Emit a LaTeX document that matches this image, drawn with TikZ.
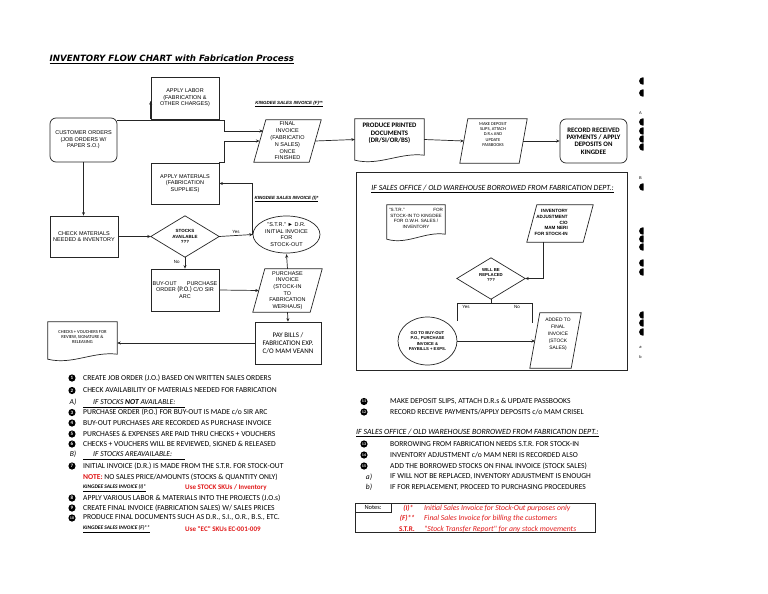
\documentclass[tikz,border=0pt]{standalone}
\usepackage{fontspec}
\setmainfont{Liberation Sans}
\newfontfamily\carl{Carlito}
\newfontfamily\dvs{DejaVu Sans}
\usetikzlibrary{arrows.meta,calc}
\definecolor{redtxt}{RGB}{225,25,25}
\tikzset{
 ln/.style={line width=0.7pt, draw=black!85},
 arr/.style={ln, -{Stealth[length=3.5pt,width=3pt]}},
 ghost/.style={rectangle, inner sep=0pt, align=center, font=\fontsize{5.5}{6.6}\selectfont},
 box/.style={ghost, ln, draw},
 txt/.style={inner sep=0pt, align=center},
 item/.style={inner sep=0pt, anchor=west, font=\carl\fontsize{7.6}{8}\selectfont},
 itemi/.style={item, font=\carl\itshape\fontsize{7.6}{8}\selectfont},
 nb/.style={circle, fill=black, inner sep=0pt, minimum size=7.2pt, text=white, font=\carl\bfseries\fontsize{5}{5}\selectfont},
 nbb/.style={nb, font=\carl\bfseries\fontsize{4}{4}\selectfont},
 lbl/.style={inner sep=0pt, font=\fontsize{4.5}{5}\selectfont},
 kd/.style={inner sep=0pt, font=\bfseries\itshape\fontsize{4.5}{5}\selectfont},
 redn/.style={item, text=redtxt, font=\carl\itshape\fontsize{7.7}{8}\selectfont},
 redl/.style={item, anchor=east, text=redtxt, font=\carl\bfseries\itshape\fontsize{7.2}{8}\selectfont},
}
\newcommand\paral[2]{\draw[ln] (#1.south west) -- ([xshift=#2]#1.north west) -- (#1.north east) -- ([xshift=-#2]#1.south east) -- cycle;}
\newcommand\docsh[1]{\draw[ln] (#1.north west) -- (#1.north east) -- ([yshift=5pt]#1.south east) .. controls ($(#1.south east)!0.35!(#1.south west)+(0,-8)$) and ($(#1.south east)!0.65!(#1.south west)+(0,6)$) .. (#1.south west) -- cycle;}
\newcommand\diam[1]{\draw[ln] (#1.north) -- (#1.east) -- (#1.south) -- (#1.west) -- cycle;}
\begin{document}
\begin{tikzpicture}[x=1pt,y=-1pt]
\useasboundingbox (0,0) rectangle (768,594);
\fill[white] (0,0) rectangle (768,594);

% title
\node[inner sep=0pt, anchor=west, font=\dvs\bfseries\itshape\fontsize{8.65}{10}\selectfont] (title) at (49.5,59.5) {\underline{INVENTORY FLOW CHART with Fabrication Process}};

% ---- main flow
\node[box, minimum width=68pt, minimum height=42pt] (labor) at (185,98) {APPLY LABOR\\(FABRICATION \&\\OTHER CHARGES)};
\node[box, rounded corners=6pt, minimum width=67pt, minimum height=44pt] (cust) at (83.5,140) {CUSTOMER ORDERS\\(JOB ORDERS W/\\PAPER S.O.)};
\node[box, minimum width=68pt, minimum height=41pt] (mat) at (185,183.5) {APPLY MATERIALS\\(FABRICATION\\SUPPLIES)};
\node[box, minimum width=68pt, minimum height=41pt] (check) at (84,236.5) {CHECK MATERIALS\\NEEDED \& INVENTORY};
\node[ghost, minimum width=68pt, minimum height=41pt, font=\bfseries\fontsize{4.5}{5.4}\selectfont] (stocks) at (185,236.5) {STOCKS\\AVAILABLE\\???};
\diam{stocks}
\node[ghost, minimum width=67pt, minimum height=37pt] (strell) at (286.5,234.5) {"S.T.R." ► D.R.\\INITIAL INVOICE\\FOR\\STOCK-OUT};
\draw[ln] (strell.center) ellipse [x radius=33.5, y radius=18.5];
\node[box, minimum width=68pt, minimum height=42pt] (buy) at (185,290) {BUY-OUT\hspace{10pt}PURCHASE\\ORDER {\carl\fontsize{6.8}{6.8}\selectfont(P.O.)} C/O SIR\\ARC};
\node[ghost, minimum width=69pt, minimum height=43pt] (pur) at (287.5,290.5) {PURCHASE\\INVOICE\\(STOCK-IN\\TO\\FABRICATION\\WERHAUS)};
\paral{pur}{12pt}
\node[box, minimum width=66pt, minimum height=42pt, font=\carl\fontsize{7}{8}\selectfont] (pay) at (288,343) {PAY BILLS /\\FABRICATION EXP.\\C/O MAM VEANN};
\node[ghost, minimum width=69pt, minimum height=37pt] (checks) at (82.5,340.5) {};
\docsh{checks}
\node[txt, font=\carl\fontsize{4.6}{5.4}\selectfont] (checkst) at (82.5,337) {CHECKS + VOUCHERS FOR\\REVIEW, SIGNATURE \&\\RELEASING};

\node[ghost, minimum width=67pt, minimum height=42pt, font=\fontsize{5.5}{6.8}\selectfont] (fin) at (287.5,141) {FINAL\\INVOICE\\(FABRICATIO\\N SALES)\\ONCE\\FINISHED};
\paral{fin}{12pt}
\node[kd] (kF) at (289,104) {\underline{KINGDEE SALES INVOICE (F)**}};
\node[kd] (kI) at (286.5,199) {\underline{KINGDEE SALES INVOICE (I)*}};

\node[ghost, minimum width=69pt, minimum height=41pt] (prod) at (389.5,139.5) {};
\docsh{prod}
\node[txt, font=\carl\bfseries\fontsize{6.8}{7.6}\selectfont] (prodt) at (389.5,133.5) {PRODUCE PRINTED\\DOCUMENTS\\(DR/SI/OR/BS)};
\node[ghost, minimum width=67pt, minimum height=44pt] (dep) at (493.5,141) {};
\paral{dep}{8pt}
\node[txt, font=\carl\fontsize{4.5}{5.2}\selectfont] (dept) at (493,134.5) {MAKE DEPOSIT\\SLIPS, ATTACH\\D.R.s AND\\UPDATE\\PASSBOOKS};
\node[box, rounded corners=6pt, minimum width=67pt, minimum height=44pt, font=\carl\bfseries\fontsize{6.8}{7.4}\selectfont] (rec) at (593.5,141) {RECORD RECEIVED\\PAYMENTS / APPLY\\DEPOSITS ON\\KINGDEE};

% connectors main
\coordinate (finA) at (263,131);
\coordinate (finB) at (259.5,141);
\coordinate (j1) at (224,120);
\draw[arr] (cust.east |- j1) -- (j1) |- (finA);
\draw[arr] (mat.north east) -- ++(5,0) |- (finB);
\draw[arr] (labor.south west) -- ([yshift=-3pt]labor.west);
\draw[arr] (cust.south) -- (cust.south |- check.north);
\draw[arr] (check.east) -- (stocks.west);
\draw[arr] (stocks.east) -- node[lbl, above=2pt] (yes1) {Yes} (strell.west);
\draw[arr] (stocks.south) -- node[lbl, pos=0.4, left=5pt] (no1) {No} (buy.north);
\draw[arr] (buy.east) -- ([xshift=6pt]pur.west);
\draw[arr] (pur.north) -- ([yshift=-1pt]strell.south);
\draw[arr] (pur.south) -- (pay.north);
\draw[arr] (pay.west) -- (pay.west -| checks.east);
\draw[arr] (strell.west) |- (mat.east);
\draw[arr] ([xshift=-6pt]fin.east) -- (prod.west);
\draw[arr] (prod.east) -- ([xshift=4pt]dep.west);
\draw[arr] ([xshift=-4pt]dep.east) -- (rec.west);

% ---- borrowed box
\node[ghost, ln, draw, minimum width=271pt, minimum height=198pt] (bigbox) at (491.5,271) {};
\node[txt, font=\carl\itshape\fontsize{7.9}{8}\selectfont] (bighdr) at (492.5,189) {\underline{IF SALES OFFICE / OLD WAREHOUSE BORROWED FROM FABRICATION DEPT.:}};
\node[ghost, minimum width=58pt, minimum height=34pt] (strdoc) at (416,222) {};
\docsh{strdoc}
\node[txt, font=\fontsize{4.6}{5.6}\selectfont] (strdoct) at (416,218.5) {\hbox to 54pt{"S.T.R."\hfill FOR}\\STOCK-IN TO KINGDEE\\FOR O.W.H. SALES /\\INVENTORY};
\node[ghost, minimum width=66pt, minimum height=37pt] (inv) at (560,223.5) {};
\paral{inv}{10pt}
\node[txt, anchor=east, align=right, font=\bfseries\fontsize{4.6}{5.6}\selectfont] (invt) at (568,222.5) {INVENTORY\\ADJUSTMENT\\C/O\\MAM NERI\\FOR STOCK-IN};
\node[ghost, minimum width=68pt, minimum height=41pt] (repl) at (491,278.5) {};
\diam{repl}
\node[txt, font=\bfseries\fontsize{4.3}{5.2}\selectfont] (replt) at (491,275) {WILL BE\\REPLACED\\???};
\node[ghost, minimum width=59pt, minimum height=48pt] (gobuy) at (427.5,341) {};
\draw[ln] (gobuy.center) ellipse [x radius=29.5, y radius=24];
\node[txt, font=\bfseries\fontsize{4.2}{5.6}\selectfont] (gobuyt) at (427.5,341) {GO TO BUY-OUT\\P.O., PURCHASE\\INVOICE \&\\PAYBILLS + EXPS.};
\node[ghost, minimum width=51pt, minimum height=55pt] (add) at (555.5,340.5) {};
\paral{add}{10pt}
\node[txt, font=\fontsize{4.9}{7}\selectfont] (addt) at (558,334.5) {ADDED TO\\FINAL\\INVOICE\\(STOCK\\SALES)};

\coordinate (rj) at (491,303);
\coordinate (yesend) at (457,321);
\coordinate (noend) at (532,323);
\coordinate (addin) at (535,341);
\draw[arr] ([xshift=-17pt]inv.south) |- (repl.east);
\draw[ln] (repl.south) -- (rj) -| (yesend);
\draw[ln] (rj) -| (noend);
\node[lbl] (yes2) at (466,306.5) {Yes};
\node[lbl] (no2) at (517,306.5) {No};
\draw[arr] (gobuy.east) -- (addin);

% ---- clipped column at right edge
\begin{scope}
\clip (630,0) rectangle (643.6,594);
\foreach \yy in {81,93,122,131,139,147,187,231,239,247,263,272,315,323,332} \fill (642.8,\yy) circle (3.7);
\end{scope}
\node[lbl, font=\fontsize{4}{4}\selectfont] (rA) at (640.5,113) {A};
\node[lbl, font=\fontsize{4}{4}\selectfont] (rB) at (640.5,178) {B};
\node[lbl, font=\itshape\fontsize{4}{4}\selectfont] (ra) at (640.5,347) {a};
\node[lbl, font=\fontsize{4}{4}\selectfont] (rb) at (640.5,357) {b};

% ---- left list
\node[nb] (b1) at (72,378) {1};
\node[item] (t1) at (83,378) {CREATE JOB ORDER (J.O.) BASED ON WRITTEN SALES ORDERS};
\node[nb] (b2) at (72,390.5) {2};
\node[item] (t2) at (83,390.5) {CHECK AVAILABILITY OF MATERIALS NEEDED FOR FABRICATION};
\node[itemi, anchor=center] (tA) at (73,402) {A)};
\node[itemi] (tAt) at (93,402) {IF STOCKS \textbf{NOT} AVAILABLE:};
\coordinate (uA1) at (83,407.3);
\coordinate (uA2) at (185,407.3);
\draw[line width=0.6pt] (uA1) -- (uA2);
\node[nb] (b3) at (72,412.5) {3};
\node[item] (t3) at (83,412.5) {PURCHASE ORDER (P.O.) FOR BUY-OUT IS MADE c/o SIR ARC};
\node[nb] (b4) at (72,423) {4};
\node[item] (t4) at (83,423) {BUY-OUT PURCHASES ARE RECORDED AS PURCHASE INVOICE};
\node[nb] (b5) at (72,434) {5};
\node[item] (t5) at (83,434) {PURCHASES \& EXPENSES ARE PAID THRU CHECKS + VOUCHERS};
\node[nb] (b6) at (72,444) {6};
\node[item] (t6) at (83,444) {CHECKS + VOUCHERS WILL BE REVIEWED, SIGNED \& RELEASED};
\node[itemi, anchor=center] (tB) at (73,454) {B)};
\node[itemi] (tBt) at (93,454) {IF STOCKS AREAVAILABLE:};
\coordinate (uB1) at (83,459.7);
\coordinate (uB2) at (185,459.7);
\draw[line width=0.6pt] (uB1) -- (uB2);
\node[nb] (b7) at (72,466) {7};
\node[item] (t7) at (83,466) {INITIAL INVOICE (D.R.) IS MADE FROM THE S.T.R. FOR STOCK-OUT};
\node[item] (tnote) at (83,477) {\textcolor{redtxt}{\bfseries NOTE:} NO SALES PRICE/AMOUNTS (STOCKS \& QUANTITY ONLY)};
\node[item, font=\carl\bfseries\itshape\fontsize{5.4}{6}\selectfont] (kI2) at (83,488) {\underline{KINGDEE SALES INVOICE (I)*}};
\node[item, font=\carl\bfseries\fontsize{7}{8}\selectfont, text=redtxt] (sku1) at (185,488) {Use STOCK SKUs / Inventory};
\node[nb] (b8) at (72,498) {8};
\node[item] (t8) at (83,498) {APPLY VARIOUS LABOR \& MATERIALS INTO THE PROJECTS (J.O.s)};
\node[nb] (b9) at (72,508) {9};
\node[item] (t9) at (83,508) {CREATE FINAL INVOICE (FABRICATION SALES) W/ SALES PRICES};
\node[nbb] (b10) at (72,518) {10};
\node[item] (t10) at (83,518) {PRODUCE FINAL DOCUMENTS SUCH AS D.R., S.I., O.R., B.S., ETC.};
\node[item, font=\carl\bfseries\itshape\fontsize{5.4}{6}\selectfont] (kF2) at (83,529) {\underline{KINGDEE SALES INVOICE (F)**}};
\node[item, font=\carl\bfseries\fontsize{7}{8}\selectfont, text=redtxt] (sku2) at (185,529) {Use "EC" SKUs EC-001-009};

% ---- right list
\node[nbb] (b11) at (364,401.5) {11};
\node[item] (t11) at (390,401.5) {MAKE DEPOSIT SLIPS, ATTACH D.R.s \& UPDATE PASSBOOKS};
\node[nbb] (b12) at (364,412) {12};
\node[item] (t12) at (390,412) {RECORD RECEIVE PAYMENTS/APPLY DEPOSITS c/o MAM CRISEL};
\node[itemi, font=\carl\itshape\fontsize{7.9}{8}\selectfont] (hdr2) at (356,433) {\underline{IF SALES OFFICE / OLD WAREHOUSE BORROWED FROM FABRICATION DEPT.:}};
\node[nbb] (b13) at (364,444) {13};
\node[item] (t13) at (390,444) {BORROWING FROM FABRICATION NEEDS S.T.R. FOR STOCK-IN};
\node[nbb] (b14) at (364,455) {14};
\node[item] (t14) at (390,455) {INVENTORY ADJUSTMENT c/o MAM NERI IS RECORDED ALSO};
\node[nbb] (b15) at (364,466) {15};
\node[item] (t15) at (390,466) {ADD THE BORROWED STOCKS ON FINAL INVOICE (STOCK SALES)};
\node[itemi, anchor=center] (ta) at (369,477) {a)};
\node[item] (tat) at (390,477) {IF WILL NOT BE REPLACED, INVENTORY ADJUSTMENT IS ENOUGH};
\node[itemi, anchor=center] (tb) at (369,487.5) {b)};
\node[item] (tbt) at (390,487.5) {IF FOR REPLACEMENT, PROCEED TO PURCHASING PROCEDURES};

% ---- notes
\node[ghost, ln, draw, minimum width=240pt, minimum height=29pt] (notes) at (475,517.5) {};
\node[ghost, ln, draw, minimum width=36pt, minimum height=9.5pt, font=\carl\fontsize{6.4}{6}\selectfont] (noteslbl) at (373,507.75) {Notes:};
\node[redl] (nI) at (413.5,508) {(I)*};
\node[redl] (nF) at (415,518.5) {(F)**};
\node[redl, font=\carl\bfseries\fontsize{7.2}{8}\selectfont] (nS) at (415,529) {S.T.R.};
\node[redn] (nIt) at (424,508) {Initial Sales Invoice for Stock-Out purposes only};
\node[redn] (nFt) at (424,518.5) {Final Sales Invoice for billing the customers};
\node[redn] (nSt) at (424,529) {"Stock Transfer Report" for any stock movements};
\end{tikzpicture}
\end{document}
